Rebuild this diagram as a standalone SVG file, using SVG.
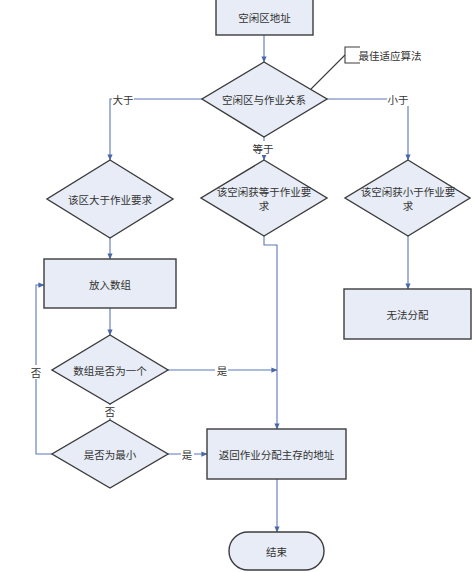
<svg xmlns="http://www.w3.org/2000/svg" width="474" height="573" viewBox="0 0 474 573">
<style>
.n{fill:#e7ecf6;stroke:#3c3c3c;stroke-width:1.4}
.t{font-family:"Noto Sans CJK SC","Liberation Serif",serif;font-size:10.5px;fill:#333;text-anchor:middle;dominant-baseline:central}
.c{fill:none;stroke:#5a78b8;stroke-width:1.1}
.ca{fill:none;stroke:#5a78b8;stroke-width:1.1;marker-end:url(#ah)}
.lb{fill:#fff}
</style>
<defs>
<marker id="ah" viewBox="0 0 8 8" refX="7.5" refY="4" markerWidth="6" markerHeight="6" orient="auto" markerUnits="userSpaceOnUse">
<path d="M0,0.5 L8,4 L0,7.5 Z" fill="#4a68a8"/>
</marker>
</defs>
<rect width="474" height="573" fill="#fff"/>
<g id="connectors">
<path class="ca" d="M264,35 V62"/>
<path class="c" d="M311,89 L345,55" stroke="#3c3c3c" style="stroke:#3c3c3c"/>
<path class="c" d="M360,47 H345 V63 H360" style="stroke:#3c3c3c"/>
<path class="ca" d="M202,99 H110 V160"/>
<path class="ca" d="M327,99 H408 V160"/>
<path class="ca" d="M264,137 V160"/>
<path class="ca" d="M110,238 V259"/>
<path class="ca" d="M408,236 V289"/>
<path class="ca" d="M264,236 V245 H277 V429"/>
<path class="ca" d="M110,308 V335"/>
<path class="ca" d="M168,370 H277"/>
<path class="c" d="M110,404 V420"/>
<path class="ca" d="M52,454 H36 V285 H44"/>
<path class="ca" d="M168,454 H207"/>
<path class="ca" d="M277,479 V532"/>
<rect class="lb" x="112" y="92" width="22" height="14"/>
<text class="t" x="123" y="99">大于</text>
<rect class="lb" x="387" y="92" width="22" height="14"/>
<text class="t" x="398" y="99">小于</text>
<rect class="lb" x="252" y="141" width="22" height="14"/>
<text class="t" x="263" y="148">等于</text>
<rect class="lb" x="215" y="363" width="13" height="14"/>
<text class="t" x="222" y="370">是</text>
<rect class="lb" x="104" y="405" width="13" height="13"/>
<text class="t" x="110" y="411">否</text>
<rect class="lb" x="30" y="365" width="13" height="14"/>
<text class="t" x="36" y="372">否</text>
<rect class="lb" x="181" y="447" width="13" height="14"/>
<text class="t" x="187" y="454">是</text>
<text class="t" x="390" y="55">最佳适应算法</text>
</g>
<g id="n1">
<rect class="n" x="216" y="-2" width="97" height="37"/>
<text class="t" x="264.5" y="17">空闲区地址</text>
</g>
<g id="n2">
<polygon class="n" points="264,62 327,99 264,137 202,99"/>
<text class="t" x="264" y="99">空闲区与作业关系</text>
</g>
<g id="n3">
<polygon class="n" points="110,160 173,199 110,238 47,199"/>
<text class="t" x="110" y="199">该区大于作业要求</text>
</g>
<g id="n4">
<polygon class="n" points="264,160 327,198 264,236 201,198"/>
<text class="t" x="264" y="191">该空闲获等于作业要</text>
<text class="t" x="264" y="205">求</text>
</g>
<g id="n5">
<polygon class="n" points="408,160 470,198 408,236 345,198"/>
<text class="t" x="408" y="191">该空闲获小于作业要</text>
<text class="t" x="408" y="205">求</text>
</g>
<g id="n6">
<rect class="n" x="344" y="289" width="127" height="50"/>
<text class="t" x="407.5" y="314">无法分配</text>
</g>
<g id="n7">
<rect class="n" x="44" y="259" width="132" height="49"/>
<text class="t" x="110" y="284">放入数组</text>
</g>
<g id="n8">
<polygon class="n" points="110,335 168,370 110,404 52,370"/>
<text class="t" x="110" y="370">数组是否为一个</text>
</g>
<g id="n9">
<polygon class="n" points="110,420 168,454 110,488 52,454"/>
<text class="t" x="110" y="454">是否为最小</text>
</g>
<g id="n10">
<rect class="n" x="207" y="429" width="139" height="50"/>
<text class="t" x="276.5" y="454">返回作业分配主存的地址</text>
</g>
<g id="n11">
<rect class="n" x="229" y="532" width="95" height="38" rx="19" ry="19"/>
<text class="t" x="276.5" y="551">结束</text>
</g>
</svg>
